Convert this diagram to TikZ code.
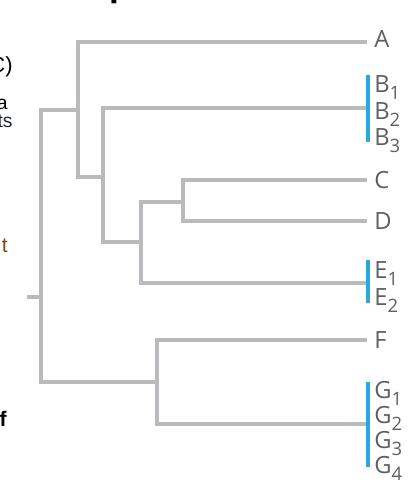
\documentclass[tikz,border=0pt]{standalone}
\usepackage{fontspec}
\setmainfont{Open Sans}
\newfontfamily\fragfont{Liberation Sans}
\definecolor{branchgray}{HTML}{B8BABD}
\definecolor{cladeblue}{HTML}{2AA7DF}
\definecolor{labelgray}{HTML}{5E5F61}
\definecolor{fragbrown}{HTML}{7B4A14}
\definecolor{fragnavy}{HTML}{1E2435}
\newcommand{\taxsub}[1]{\raisebox{-0.3em}{\fontsize{10.5}{10.5}\selectfont #1}}

\begin{document}
\begin{tikzpicture}[x=0.02cm, y=-0.02cm,
  branch/.style={draw=branchgray, line width=2pt},
  clade/.style={draw=cladeblue, line width=2.3pt},
  taxon/.style={anchor=base west, inner sep=0pt, text=labelgray, font=\fontsize{13.5}{13.5}\selectfont},
  frag/.style={inner sep=0pt, anchor=base east, font=\fragfont\fontsize{11}{11}\selectfont}]
\useasboundingbox (0,0) rectangle (419,500);
\clip (0,0) rectangle (419,500);

\coordinate (root) at (27,297);
\coordinate (n0) at (41,297);
\coordinate (n1) at (78,110);
\coordinate (n2) at (103,177);
\coordinate (n3) at (141,242);
\coordinate (n4) at (183,202);
\coordinate (n5) at (157,382);

\coordinate (tA) at (367,42);
\coordinate (tB) at (367,108);
\coordinate (tC) at (367,180);
\coordinate (tD) at (367,221);
\coordinate (tE) at (367,283);
\coordinate (tF) at (367,340);
\coordinate (tG) at (367,424);

\draw[branch] (root) -- (n0);
\draw[branch] (n0) |- (n1);
\draw[branch] (n0) |- (n5);
\draw[branch] (n1) |- (tA);
\draw[branch] (n1) |- (n2);
\draw[branch] (n2) |- (tB);
\draw[branch] (n2) |- (n3);
\draw[branch] (n3) |- (n4);
\draw[branch] (n3) |- (tE);
\draw[branch] (n4) |- (tC);
\draw[branch] (n4) |- (tD);
\draw[branch] (n5) |- (tF);
\draw[branch] (n5) |- (tG);

\coordinate (cB1) at (368,75);
\coordinate (cB2) at (368,142);
\coordinate (cE1) at (368,260);
\coordinate (cE2) at (368,303);
\coordinate (cG1) at (368,382);
\coordinate (cG2) at (368,467);

\draw[clade] (cB1) -- (cB2);
\draw[clade] (cE1) -- (cE2);
\draw[clade] (cG1) -- (cG2);

\node[taxon] (A) at (374,48) {A};
\node[taxon] (B1) at (374,92) {B\taxsub{1}};
\node[taxon] (B2) at (374,119) {B\taxsub{2}};
\node[taxon] (B3) at (374,145) {B\taxsub{3}};
\node[taxon] (C) at (374,188) {C};
\node[taxon] (D) at (374,229) {D};
\node[taxon] (E1) at (374,278) {E\taxsub{1}};
\node[taxon] (E2) at (374,305) {E\taxsub{2}};
\node[taxon] (F) at (374,348) {F};
\node[taxon] (G1) at (374,398) {G\taxsub{1}};
\node[taxon] (G2) at (374,423) {G\taxsub{2}};
\node[taxon] (G3) at (374,448) {G\taxsub{3}};
\node[taxon] (G4) at (374,473) {G\taxsub{4}};

\node[frag, font=\fragfont\fontsize{12.5}{12.5}\selectfont] (fragC) at (13,72) {C)};
\node[frag] (fraga) at (8,110) {a};
\node[frag, text=fragnavy] (fragts) at (13,128) {ts};
\node[frag, text=fragbrown, font=\fragfont\fontsize{12}{12}\selectfont] (fragt) at (8,252) {t};
\node[frag, font=\fragfont\bfseries\fontsize{12}{12}\selectfont] (fragf) at (7,426) {f};
\node[frag, anchor=base west, font=\fragfont\bfseries\fontsize{20}{20}\selectfont] (fragp) at (109,-3) {p};
\end{tikzpicture}
\end{document}
